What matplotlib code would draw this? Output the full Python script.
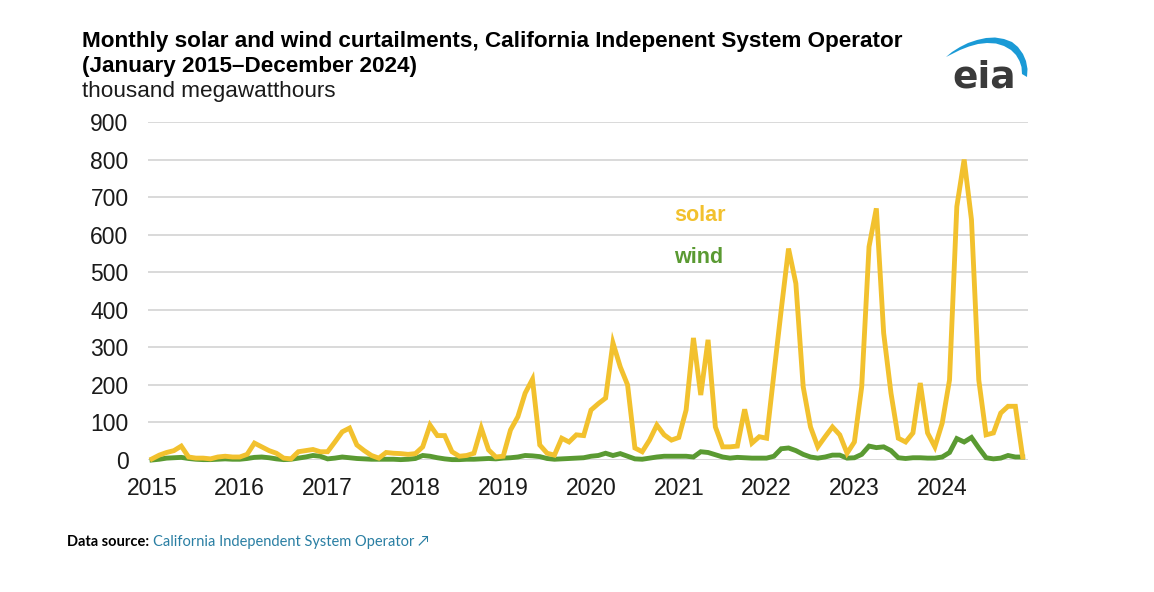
import matplotlib
matplotlib.use("Agg")
import matplotlib.pyplot as plt
from matplotlib.patches import Polygon
import numpy as np

# ---------------- data (thousand MWh) ----------------
years = list(range(2015, 2025))
tick_labels = [str(y) for y in years]

solar = [
    3, 13, 20, 25, 37, 8, 5, 5, 3, 8, 10, 8,            # 2015
    8, 15, 45, 35, 25, 18, 5, 3, 22, 25, 28, 22,        # 2016
    22, 48, 75, 85, 40, 25, 12, 5, 20, 18, 17, 15,      # 2017
    17, 35, 93, 65, 65, 22, 10, 12, 18, 85, 27, 8,      # 2018
    10, 80, 115, 178, 215, 40, 18, 13, 58, 48, 67, 65,  # 2019
    133, 150, 165, 312, 248, 200, 32, 22, 53, 93, 67, 53,  # 2020
    60, 133, 325, 173, 320, 88, 35, 35, 37, 135, 45, 62,   # 2021
    58, 230, 400, 563, 470, 195, 88, 35, 62, 88, 67, 18,   # 2022
    48, 195, 568, 670, 338, 178, 58, 48, 72, 205, 72, 35,  # 2023
    98, 213, 675, 800, 640, 213, 67, 72, 125, 143, 143, 8, # 2024
]

wind = [
    0, 2, 5, 6, 7, 4, 2, 1, 1, 2, 3, 2,          # 2015
    2, 4, 7, 8, 6, 3, 1, 2, 5, 8, 12, 10,        # 2016
    3, 5, 8, 6, 4, 3, 2, 2, 2, 2, 1, 2,          # 2017
    4, 12, 10, 6, 3, 1, 1, 2, 2, 3, 4, 3,        # 2018
    5, 6, 8, 12, 11, 9, 4, 2, 3, 4, 5, 6,        # 2019
    10, 12, 18, 12, 17, 10, 3, 2, 5, 8, 10, 10,  # 2020
    10, 10, 8, 22, 20, 14, 8, 5, 7, 6, 5, 5,     # 2021
    5, 10, 30, 32, 25, 15, 8, 5, 8, 13, 13, 5,   # 2022
    6, 15, 37, 33, 35, 25, 6, 4, 6, 6, 5, 5,     # 2023
    8, 20, 57, 48, 60, 32, 6, 3, 5, 12, 8, 8,    # 2024
]

months = np.arange(len(solar))
xvals = years[0] + months / 12.0

# ---------------- styling ----------------
SOLAR_C = "#F2C12E"
WIND_C = "#5A9A32"
GRID_C = "#D9D9D9"
TEXT_C = "#1a1a1a"
FONT = ["Liberation Sans", "DejaVu Sans"]

W, H = 1154, 592
fig = plt.figure(figsize=(W / 100, H / 100), dpi=100)
fig.patch.set_facecolor("white")

def fx(px):
    return px / W

def fy(py):
    return 1 - py / H

ax = fig.add_axes([fx(148), fy(460), fx(1028) - fx(148), fy(122) - fy(460)])
ax.set_facecolor("white")

ax.plot(xvals, wind, color=WIND_C, lw=3.5, solid_joinstyle="miter", clip_on=False, zorder=3)
ax.plot(xvals, solar, color=SOLAR_C, lw=3.5, solid_joinstyle="miter", clip_on=False, zorder=4)

ax.set_xlim(2015 - 4 / 88, 2024 + 86 / 88)
ax.set_ylim(0, 900)
ax.set_yticks(np.arange(0, 901, 100))
ax.set_xticks(years)
ax.set_xticklabels(tick_labels)

ax.grid(axis="y", color=GRID_C, lw=1.4, zorder=0)
ax.grid(axis="x", visible=False)
for s in ax.spines.values():
    s.set_visible(False)
ax.tick_params(axis="both", length=0, labelsize=16.5, labelcolor=TEXT_C)
ax.tick_params(axis="y", pad=14)
ax.tick_params(axis="x", pad=12)
for lab in ax.get_xticklabels() + ax.get_yticklabels():
    lab.set_fontfamily(FONT)

# series labels
ax.text(2020.95, 650, "solar", color=SOLAR_C, fontsize=15.5, fontweight="bold",
        family=FONT, va="center", ha="left")
ax.text(2020.95, 540, "wind", color=WIND_C, fontsize=15.5, fontweight="bold",
        family=FONT, va="center", ha="left")

# titles
fig.text(fx(82), fy(47), "Monthly solar and wind curtailments, California Indepenent System Operator",
         fontsize=16.2, fontweight="bold", family=FONT, color="black", va="baseline")
fig.text(fx(82), fy(72), "(January 2015\u2013December 2024)",
         fontsize=16.2, fontweight="bold", family=FONT, color="black", va="baseline")
fig.text(fx(82), fy(97), "thousand megawatthours",
         fontsize=16.2, family=FONT, color=TEXT_C, va="baseline")

# eia logo
fig.text(fx(984), fy(88), "eia", fontsize=27, fontweight="bold", family=["DejaVu Sans"],
         color="#3A3A3A", ha="center", va="baseline")
outer = np.array([(946, 57), (952, 52), (960, 47), (968, 43), (977, 40), (986, 38),
                  (995, 37.5), (1004, 39), (1012, 42), (1018, 47), (1023, 54),
                  (1026, 61), (1027.5, 69), (1027, 77)])
inner = np.array([(1022, 74), (1021.5, 67), (1019.5, 61), (1016, 55), (1011, 50),
                  (1004, 46), (996, 43.5), (987, 43), (978, 44), (969, 46.5),
                  (960, 50), (952, 54), (946, 57)])
pts = np.vstack([outer, inner])
pts_fig = np.column_stack([pts[:, 0] / W, 1 - pts[:, 1] / H])
fig.patches.append(Polygon(pts_fig, closed=True, transform=fig.transFigure,
                           facecolor="#1A9AD6", edgecolor="none"))

# data source
src_font = ["Lato", "DejaVu Sans"]
t1 = fig.text(fx(67), fy(542), "Data source: ", fontsize=10.5, fontweight="bold",
              family=src_font, color="black", va="center")
fig.canvas.draw()
bb = t1.get_window_extent()
fig.text(bb.x1 / W, fy(542), "California Independent System Operator \u2197", fontsize=10.5,
         family=src_font, color="#2A7FA3", va="center")

fig.savefig("out.png", dpi=100, facecolor="white")
